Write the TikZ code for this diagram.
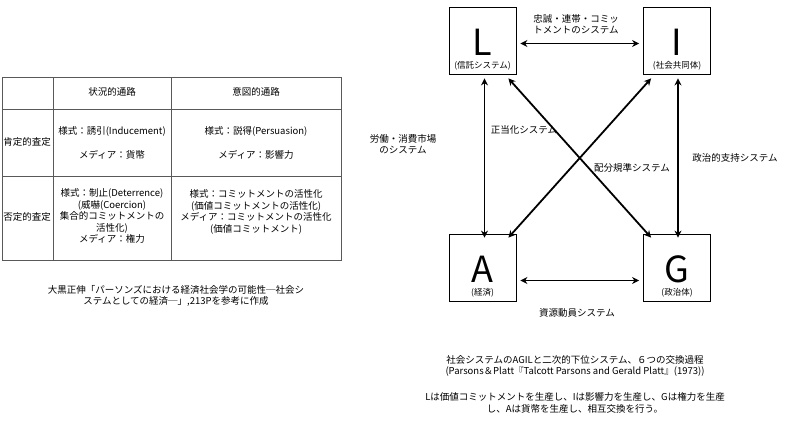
\documentclass[tikz,border=0pt]{standalone}
\usepackage{fontspec}
\setmainfont{Noto Sans CJK JP}
\usetikzlibrary{arrows.meta}
\begin{document}
\begin{tikzpicture}[x=1pt,y=-1pt,
  t/.style={font=\fontsize{9.5}{11.5}\selectfont,align=center,inner sep=0pt},
  box/.style={draw,thick,minimum width=67pt,minimum height=67pt,inner sep=0pt},
  big/.style={font=\fontsize{36}{36}\selectfont,inner sep=0pt},
  arr/.style={{Stealth[length=7pt,width=7pt]}-{Stealth[length=7pt,width=7pt]},line width=1.8pt}]
\useasboundingbox (0,0) rectangle (800,437);
% table
\draw[gray!70!black] (2,77) rectangle (341,260);
\draw[gray!70!black] (53,77)--(53,260) (171,77)--(171,260) (2,109)--(341,109) (2,176)--(341,176);
\node[t] (h1) at (112,92) {状況的通路};
\node[t] (h2) at (256,92) {意図的通路};
\node[t] (r1) at (27,142) {肯定的査定};
\node[t] (r2) at (27,217) {否定的査定};
\node[t] (c11) at (112,131) {様式：誘引(Inducement)};
\node[t] (c12) at (112,155) {メディア：貨幣};
\node[t] (c21) at (256,131) {様式：説得(Persuasion)};
\node[t] (c22) at (256,155) {メディア：影響力};
\node[t] (c31) at (112,216) {様式：制止(Deterrence)\\(威嚇(Coercion)\\集合的コミットメントの\\活性化)\\メディア：権力};
\node[t] (c32) at (256,212) {様式：コミットメントの活性化\\(価値コミットメントの活性化)\\メディア：コミットメントの活性化\\(価値コミットメント)};
\node[t] (cap1) at (176,296) {大黒正伸「パーソンズにおける経済社会学の可能性─社会シ\\ステムとしての経済─」,213Pを参考に作成};
% AGIL
\node[box] (L) at (482.5,40.5) {};
\node[box] (I) at (677,40.5) {};
\node[box] (A) at (482.5,267.5) {};
\node[box] (G) at (677,267.5) {};
\node[big] (Lb) at (482.5,42) {L};
\node[big] (Ib) at (677,42) {I};
\node[big] (Ab) at (482.5,269) {A};
\node[big] (Gb) at (677,269) {G};
\node[t,font=\fontsize{8.5}{10}\selectfont] (Ls) at (482.5,66) {(信託システム)};
\node[t,font=\fontsize{8.5}{10}\selectfont] (Is) at (677,66) {(社会共同体)};
\node[t,font=\fontsize{8.5}{10}\selectfont] (As) at (482.5,293) {(経済)};
\node[t,font=\fontsize{8.5}{10}\selectfont] (Gs) at (677,293) {(政治体)};
\draw[arr] (L.east) ++(4,3) coordinate (l1) -- ([xshift=-4]l1 -| I.west);
\draw[arr] (L.south) ++(2,4) coordinate (l2) -- ([yshift=-4]l2 |- A.north);
\draw[arr] (I.south) ++(1,4) coordinate (i2) -- ([yshift=-4]i2 |- G.north);
\draw[arr] (A.east) ++(4,13) coordinate (a1) -- ([xshift=-4]a1 -| G.west);
\draw[arr] (L.south east) ++(-8,4) coordinate (d1) -- ([xshift=8,yshift=-4]G.north west);
\draw[arr] (I.south west) ++(8,4) coordinate (d2) -- ([xshift=-8,yshift=-4]A.north east);
\node[t] (lab1) at (576,24) {忠誠・連帯・コミッ\\トメントのシステム};
\node[t] (lab2) at (403,144) {労働・消費市場\\のシステム};
\node[t] (lab3) at (524,130) {正当化システム};
\node[t] (lab4) at (632,168) {配分規準システム};
\node[t] (lab5) at (735,158) {政治的支持システム};
\node[t] (lab6) at (577,313) {資源動員システム};
\node[t] (cap2) at (575,366) {社会システムのAGILと二次的下位システム、６つの交換過程\\(Parsons＆Platt『Talcott Parsons and Gerald Platt』(1973))};
\node[t] (cap3) at (575,403) {Lは価値コミットメントを生産し、Iは影響力を生産し、Gは権力を生産\\し、Aは貨幣を生産し、相互交換を行う。};
\end{tikzpicture}
\end{document}
